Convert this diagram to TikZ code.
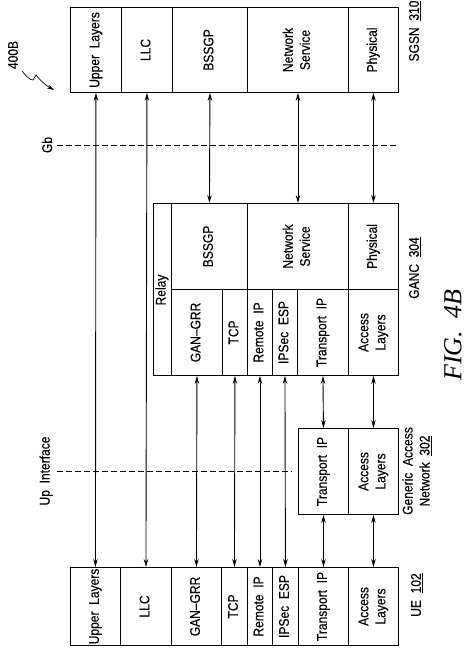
\documentclass[tikz,border=0pt]{standalone}
\usepackage{fontspec}
\setmainfont{Liberation Sans}[FakeStretch=0.86,FakeBold=0.3]
\newfontfamily\figfont{Liberation Serif}
\usetikzlibrary{arrows.meta}
\newcommand{\rottext}[1]{\rotatebox{90}{\begin{tabular}{@{}c@{}}#1\end{tabular}}}
\begin{document}
\begin{tikzpicture}[x=1pt,y=-1pt,
  font=\fontsize{14}{17}\selectfont,
  blk/.style={draw, line width=0.9pt, inner sep=0pt, anchor=north west},
  link/.style={{Stealth[length=8pt,width=4.5pt]}-{Stealth[length=8pt,width=4.5pt]}, line width=0.9pt},
  iface/.style={dash pattern=on 6pt off 3pt, line width=0.9pt},
  lbl/.style={rotate=90, inner sep=0pt, align=center}]
\useasboundingbox (0,0) rectangle (474,660);
% SGSN
\node[blk,minimum width=51pt,minimum height=85pt] (sUL) at (70,7) {\rottext{Upper\ \ Layers}};
\node[blk,minimum width=51pt,minimum height=85pt] (sLLC) at (121,7) {\rottext{LLC}};
\node[blk,minimum width=75pt,minimum height=85pt] (sBS) at (172,7) {\rottext{BSSGP}};
\node[blk,minimum width=101pt,minimum height=85pt] (sNS) at (247,7) {\rottext{Network\\Service}};
\node[blk,minimum width=50pt,minimum height=85pt] (sPH) at (348,7) {\rottext{Physical}};
% GANC
\node[blk,minimum width=18pt,minimum height=172pt] (gR) at (153,203) {};
\node[lbl] (relayL) at (162,290) {Relay};
\node[blk,minimum width=76pt,minimum height=86pt] (gBS) at (171,203) {\rottext{BSSGP}};
\node[blk,minimum width=101pt,minimum height=86pt] (gNS) at (247,203) {\rottext{Network\\Service}};
\node[blk,minimum width=50pt,minimum height=86pt] (gPH) at (348,203) {\rottext{Physical}};
\node[blk,minimum width=51pt,minimum height=86pt] (gGR) at (171,289) {\rottext{GAN--GRR}};
\node[blk,minimum width=25pt,minimum height=86pt] (gTCP) at (222,289) {\rottext{TCP}};
\node[blk,minimum width=25pt,minimum height=86pt] (gRIP) at (247,289) {\rottext{Remote\ \ IP}};
\node[blk,minimum width=25pt,minimum height=86pt] (gESP) at (272,289) {\rottext{IPSec\ \ ESP}};
\node[blk,minimum width=51pt,minimum height=86pt] (gTIP) at (297,289) {\rottext{Transport\ \ IP}};
\node[blk,minimum width=50pt,minimum height=86pt] (gAC) at (348,289) {\rottext{Access\\Layers}};
% Generic Access Network
\node[blk,minimum width=50pt,minimum height=86pt] (nTIP) at (298,428) {\rottext{Transport\ \ IP}};
\node[blk,minimum width=50pt,minimum height=86pt] (nAC) at (348,428) {\rottext{Access\\Layers}};
% UE
\node[blk,minimum width=50pt,minimum height=78pt] (uUL) at (70,567) {\rottext{Upper\ \ Layers}};
\node[blk,minimum width=51pt,minimum height=78pt] (uLLC) at (120,567) {\rottext{LLC}};
\node[blk,minimum width=50pt,minimum height=78pt] (uGR) at (171,567) {\rottext{GAN--GRR}};
\node[blk,minimum width=26pt,minimum height=78pt] (uTCP) at (221,567) {\rottext{TCP}};
\node[blk,minimum width=25pt,minimum height=78pt] (uRIP) at (247,567) {\rottext{Remote\ \ IP}};
\node[blk,minimum width=26pt,minimum height=78pt] (uESP) at (272,567) {\rottext{IPSec\ \ ESP}};
\node[blk,minimum width=50pt,minimum height=78pt] (uTIP) at (298,567) {\rottext{Transport\ \ IP}};
\node[blk,minimum width=50pt,minimum height=78pt] (uAC) at (348,567) {\rottext{Access\\Layers}};
% labels
\node[lbl] (sgsnL) at (415,31) {SGSN\ \ \underline{310}};
\node[lbl] (gancL) at (415,268) {GANC\ \ \underline{304}};
\node[lbl] (ganL) at (417,471) {Generic\ \ Access\\Network\ \ \underline{302}};
\node[lbl] (ueL) at (417,595) {UE\ \ \underline{102}};
\node[lbl] (gbL) at (47,145) {Gb};
\node[lbl] (upL) at (46,471) {Up\ \ Interface};
\node[lbl] (refL) at (13,55) {400B};
\node[lbl,font=\fontsize{26}{30}\selectfont\figfont\itshape] (figL) at (453,335) {FIG.\ \ 4B};
% interfaces
\coordinate (gb1) at (57,145);
\coordinate (gb2) at (398,145);
\coordinate (up1) at (57,471);
\coordinate (up2) at (292,471);
\draw[iface] (gb1) -- (gb2);
\draw[iface] (up1) -- (up2);
% lead line
\coordinate (r1) at (22,71);
\coordinate (r2) at (54,90);
\draw[line width=0.7pt,-{Stealth[length=7pt,width=4pt]}] (r1) .. controls (27,77) and (30,80) .. (33,80) -- (36,75) .. controls (40,80) and (45,85) .. (r2);
% links
\draw[link] (sUL.south) -- (uUL.north);
\draw[link] (sLLC.south) -- (uLLC.north);
\draw[link] (sBS.south) -- (gBS.north);
\draw[link] (sNS.south) -- (gNS.north);
\draw[link] (sPH.south) -- (gPH.north);
\draw[link] (gGR.south) -- (uGR.north);
\draw[link] (gTCP.south) -- (uTCP.north);
\draw[link] (gRIP.south) -- (uRIP.north);
\draw[link] (gESP.south) -- (uESP.north);
\draw[link] (gTIP.south) -- (nTIP.north);
\draw[link] (gAC.south) -- (nAC.north);
\draw[link] (nTIP.south) -- (uTIP.north);
\draw[link] (nAC.south) -- (uAC.north);
\end{tikzpicture}
\end{document}
